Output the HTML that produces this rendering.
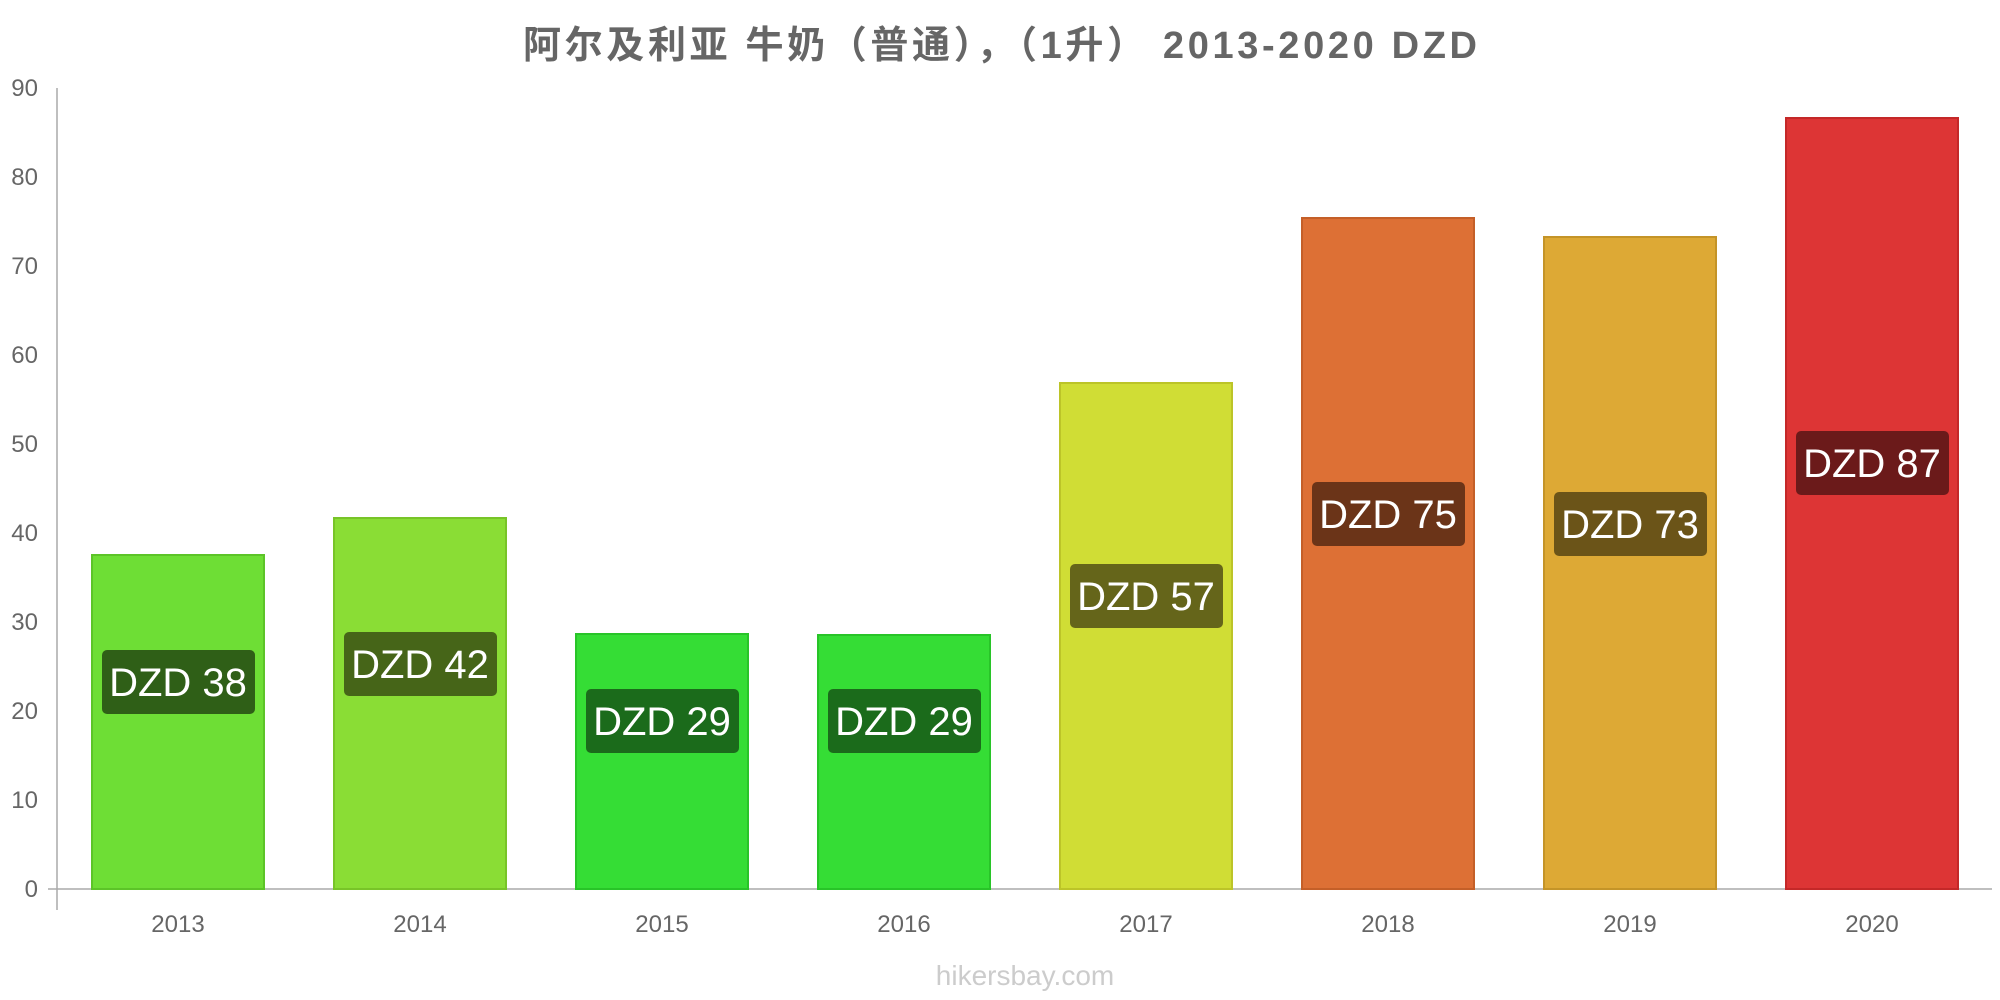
<!DOCTYPE html>
<html><head><meta charset="utf-8"><style>html,body{margin:0;padding:0;background:#fff}svg{display:block}</style></head><body>
<svg width="2000" height="1000" viewBox="0 0 2000 1000" xmlns="http://www.w3.org/2000/svg" font-family="'Liberation Sans','Noto Sans CJK SC',sans-serif">
<text x="1000" y="58" text-anchor="middle" font-size="38" font-weight="bold" fill="#666" textLength="954" lengthAdjust="spacing">阿尔及利亚 牛奶（普通），（1升） 2013-2020 DZD</text>
<g font-size="24" fill="#666" text-anchor="end">
<text x="38" y="897">0</text><text x="38" y="808">10</text><text x="38" y="719">20</text><text x="38" y="630">30</text><text x="38" y="541">40</text><text x="38" y="452">50</text><text x="38" y="363">60</text><text x="38" y="274">70</text><text x="38" y="185">80</text><text x="38" y="96">90</text>
</g>
<g stroke="#aaa" stroke-width="1.5"><line x1="57" y1="88" x2="57" y2="910"/><line x1="48" y1="889" x2="1992" y2="889"/></g>
<g stroke-width="2">
<rect x="92" y="555" width="172" height="334" fill="#6ede35" stroke="#5cc428"/>
<rect x="334" y="518" width="172" height="371" fill="#8add35" stroke="#78c428"/>
<rect x="576" y="634" width="172" height="255" fill="#35dd35" stroke="#28c428"/>
<rect x="818" y="635" width="172" height="254" fill="#35dd35" stroke="#28c428"/>
<rect x="1060" y="383" width="172" height="506" fill="#d0dd35" stroke="#bcc428"/>
<rect x="1302" y="218" width="172" height="671" fill="#dd7035" stroke="#c45f28"/>
<rect x="1544" y="237" width="172" height="652" fill="#dda935" stroke="#c49428"/>
<rect x="1786" y="118" width="172" height="771" fill="#dd3535" stroke="#c42828"/>
</g>
<g font-size="40" fill="#fff" text-anchor="middle">
<rect x="102" y="650" width="153" height="64" rx="5" fill="#2f5f17"/><text x="178" y="696">DZD 38</text>
<rect x="344" y="632" width="153" height="64" rx="5" fill="#466518"/><text x="420" y="678">DZD 42</text>
<rect x="586" y="689" width="153" height="64" rx="5" fill="#1b6b1b"/><text x="662" y="735">DZD 29</text>
<rect x="828" y="689" width="153" height="64" rx="5" fill="#1b6b1b"/><text x="904" y="735">DZD 29</text>
<rect x="1070" y="564" width="153" height="64" rx="5" fill="#65651a"/><text x="1146" y="610">DZD 57</text>
<rect x="1312" y="482" width="153" height="64" rx="5" fill="#6b3418"/><text x="1388" y="528">DZD 75</text>
<rect x="1554" y="492" width="153" height="64" rx="5" fill="#6b5418"/><text x="1630" y="538">DZD 73</text>
<rect x="1796" y="431" width="153" height="64" rx="5" fill="#6b1a1a"/><text x="1872" y="477">DZD 87</text>
</g>
<g font-size="24" fill="#666" text-anchor="middle">
<text x="178" y="932">2013</text><text x="420" y="932">2014</text><text x="662" y="932">2015</text><text x="904" y="932">2016</text><text x="1146" y="932">2017</text><text x="1388" y="932">2018</text><text x="1630" y="932">2019</text><text x="1872" y="932">2020</text>
</g>
<text x="1025" y="985" text-anchor="middle" font-size="28" fill="#ccc">hikersbay.com</text>
</svg>
</body></html>
